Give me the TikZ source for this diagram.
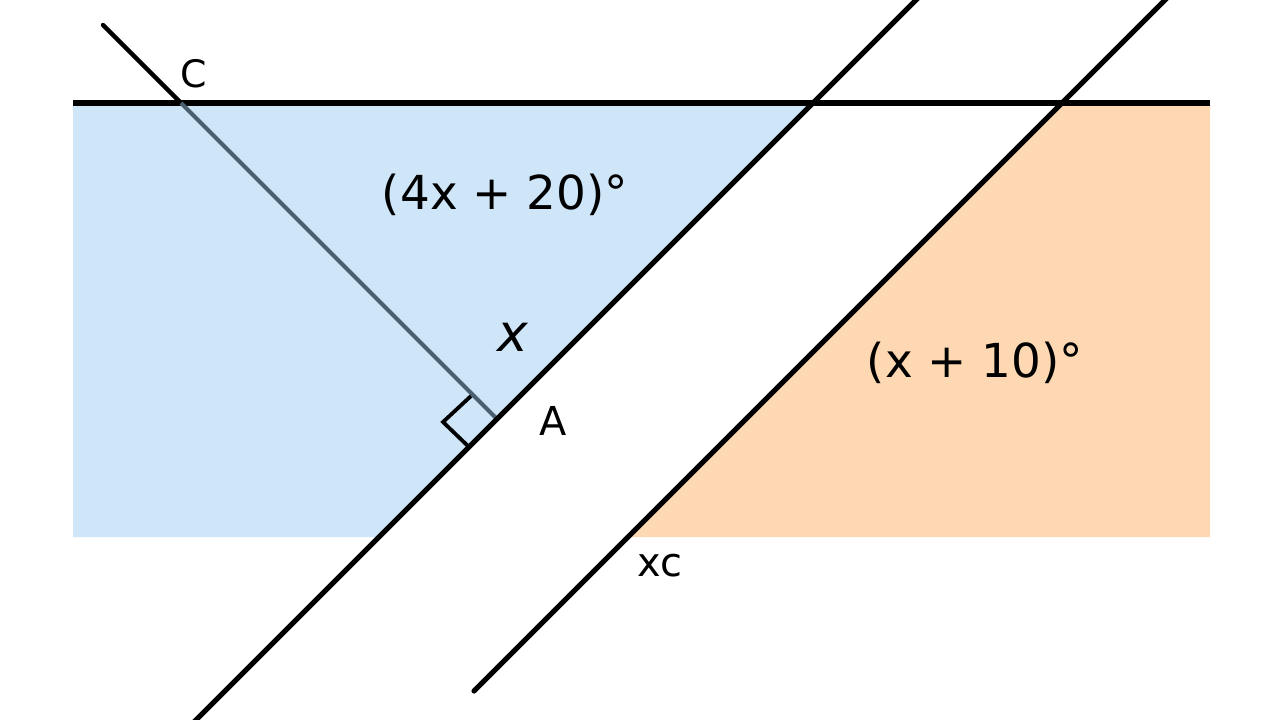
\documentclass[tikz,border=0pt]{standalone}
\usepackage{fontspec}
\setmainfont{DejaVu Sans}
\definecolor{blueA}{HTML}{CFE5F8}
\definecolor{orangeA}{HTML}{FDD8B2}
\definecolor{slate}{HTML}{4A5F70}
\tikzset{
  geoline/.style={line width=5.2bp, black, line cap=round},
  lbl/.style={inner sep=0pt, text=black},
}
\begin{document}
\begin{tikzpicture}[x=1bp,y=-1bp]
\useasboundingbox (0,0) rectangle (1280,720);
% regions
\fill[blueA] (73,103) -- (813,103) -- (379,537) -- (73,537) -- cycle;
\fill[orangeA] (1062,103) -- (1210,103) -- (1210,537) -- (628,537) -- cycle;
% points
\coordinate (Hl) at (73,103);
\coordinate (Hr) at (1210,103);
\coordinate (T0) at (103,25);
\coordinate (Cp) at (181,103);
\coordinate (F) at (497,419);
\coordinate (D1a) at (922,-6);
\coordinate (D1b) at (194,722);
\coordinate (D2a) at (1170,-5);
\coordinate (D2b) at (474,691);
\coordinate (R1) at (471,396);
\coordinate (R2) at (443,422);
\coordinate (R3) at (469,447);
% lines
\draw[geoline, line cap=butt] (Hl) -- (Hr);
\draw[geoline, line width=4.4bp] (T0) -- (Cp);
\draw[line width=4bp, slate] (Cp) -- (F);
\draw[geoline] (D1a) -- (D1b);
\draw[geoline] (D2a) -- (D2b);
\draw[line width=3.8bp, black, line join=miter] (R1) -- (R2) -- (R3);
% labels
\node[lbl, font=\fontsize{38}{40}\selectfont] (lC) at (194,74) {C};
\node[lbl, font=\fontsize{47}{50}\selectfont] (l1) at (505,195) {(4x + 20)°};
\node[lbl, font=\fontsize{52}{54}\selectfont\itshape] (lx) at (513,337) {x};
\node[lbl, font=\fontsize{40}{42}\selectfont] (lA) at (553,421) {A};
\node[lbl, font=\fontsize{47}{50}\selectfont] (l2) at (975,363) {(x + 10)°};
\node[lbl, font=\fontsize{40}{42}\selectfont] (lxc) at (660,566) {xc};
\end{tikzpicture}
\end{document}
